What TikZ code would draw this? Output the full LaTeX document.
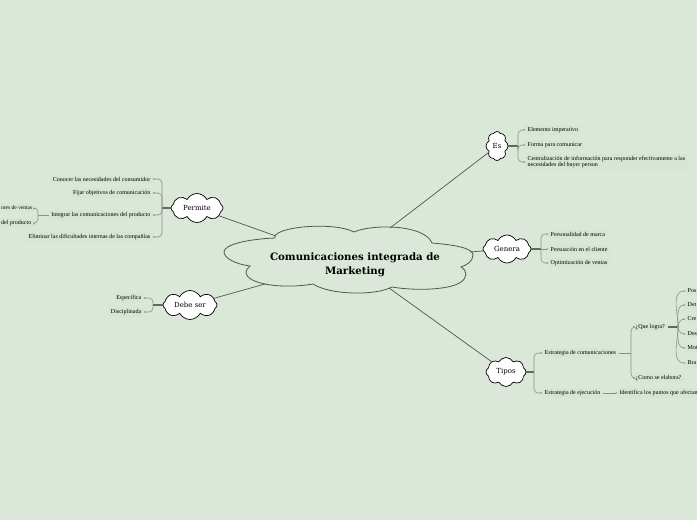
\documentclass[tikz,border=0pt]{standalone}
\usepackage{fontspec}
\setmainfont{Liberation Serif}
\newfontfamily\slabfont{DejaVu Serif}
\usetikzlibrary{shapes.symbols,arrows.meta}
\definecolor{mapback}{HTML}{DBE8D9}
\definecolor{leafback}{HTML}{D5E6D3}
\definecolor{branchline}{HTML}{84937F}
\definecolor{thickline}{HTML}{5C6B5A}
\definecolor{edgeline}{HTML}{4A5A4A}
\tikzset{
  bubble/.style={shape=cloud,cloud puffs=#1,cloud puff arc=125,cloud ignores aspect,draw=black,line width=0.7pt,fill=white,inner sep=0pt,font=\slabfont\fontsize{7}{8}\selectfont},
  leaf/.style={fill=leafback,rounded corners=1.5pt,inner xsep=2.5pt,inner ysep=2.2pt,text=black,font=\fontsize{6}{6.2}\selectfont},
  linkline/.style={draw=edgeline,line width=0.7pt},
  stem/.style={draw=thickline,line width=1.1pt},
  branch/.style={draw=branchline,line width=0.6pt,rounded corners=4pt,-{To[length=1.4pt,width=1.8pt]}},
  plainbranch/.style={draw=branchline,line width=0.6pt},
  fanup/.style={draw=branchline,line width=0.6pt,out=90,in=180,-{To[length=1.4pt,width=1.8pt]}},
  fandown/.style={draw=branchline,line width=0.6pt,out=-90,in=180,-{To[length=1.4pt,width=1.8pt]}}
}
\begin{document}
\begin{tikzpicture}[x=1pt,y=-1pt]
  \useasboundingbox[fill=mapback] (0,0) rectangle (697,520);
  % central cloud
  \draw[draw=edgeline,line width=0.8pt,fill=mapback]
    (275,236) .. controls (280,226) and (335,222) .. (354,232)
    .. controls (372,224) and (424,224) .. (432,243)
    .. controls (455,245) and (473,248) .. (473,255)
    .. controls (473,261) and (467,265) .. (461,267)
    .. controls (468,271) and (467,278) .. (461,282)
    .. controls (450,290) and (415,291) .. (392,287)
    .. controls (375,296) and (330,295) .. (313,284)
    .. controls (285,289) and (246,285) .. (246,272)
    .. controls (246,270) and (248,268) .. (250,266)
    .. controls (235,264) and (224,258) .. (224,252)
    .. controls (224,244) and (250,239) .. (275,238)
    -- cycle;
  \node[font=\slabfont\bfseries\fontsize{10.2}{14}\selectfont,align=center] (main) at (355,265) {Comunicaciones integrada de\\Marketing};
  \coordinate (mainEs) at (390,228);
  \coordinate (mainGenera) at (470,252);
  \coordinate (mainTipos) at (389,288);
  \coordinate (mainPermite) at (276,236);
  \coordinate (mainDebe) at (265,284);
  % clouds
  \node[bubble=8,minimum width=52pt,minimum height=29pt] (permite) at (197,208) {Permite};
  \node[bubble=8,minimum width=54pt,minimum height=29pt] (debe) at (190,305) {Debe ser};
  \node[bubble=8,minimum width=22pt,minimum height=29pt] (es) at (497,146) {Es};
  \node[bubble=8,minimum width=48pt,minimum height=28pt] (genera) at (507,249) {Genera};
  \node[bubble=8,minimum width=40pt,minimum height=29pt] (tipos) at (506,372) {Tipos};
  \draw[linkline] (mainEs) -- (es);
  \draw[linkline] (mainGenera) -- (genera);
  \draw[linkline] (mainTipos) -- (tipos);
  \draw[linkline] (mainPermite) -- (permite);
  \draw[linkline] (mainDebe) -- (debe);
  % Permite
  \coordinate (permiteJ) at (162,208);
  \node[leaf,anchor=east] (conocer) at (153,179) {Conocer las necesidades del consumidor};
  \node[leaf,anchor=east] (fijar) at (153,193) {Fijar objetivos de comunicación};
  \node[leaf,anchor=east] (integrar) at (153,215) {Integrar las comunicaciones del producto};
  \node[leaf,anchor=east] (eliminar) at (153,237) {Eliminar las dificultades internas de las compañías};
  \node[leaf,anchor=east,inner xsep=1.5pt,font=\fontsize{5.5}{6}\selectfont] (ventas) at (34,208) {ores de ventas};
  \node[leaf,anchor=east] (producto) at (34,223) {del producto};
  \coordinate (integrarJ) at (38,215);
  \draw[stem] (permite) -- (permiteJ);
  \draw[branch] (permiteJ) |- (conocer);
  \draw[branch] (permiteJ) |- (fijar);
  \draw[branch] (permiteJ) |- (integrar);
  \draw[branch] (permiteJ) |- (eliminar);
  \draw[plainbranch] (integrar) -- (integrarJ);
  \draw[branch] (integrarJ) |- (ventas);
  \draw[branch] (integrarJ) |- (producto);
  % Debe ser
  \coordinate (debeJ) at (153,305);
  \node[leaf,anchor=east] (especifica) at (144,298) {Específica};
  \node[leaf,anchor=east] (disciplinada) at (144,312) {Disciplinada};
  \draw[stem] (debe) -- (debeJ);
  \draw[branch] (debeJ) |- (especifica);
  \draw[branch] (debeJ) |- (disciplinada);
  % Es
  \coordinate (esJ) at (518,146);
  \node[leaf,anchor=west] (elemento) at (525,130) {Elemento imperativo};
  \node[leaf,anchor=west] (forma) at (525,145) {Forma para comunicar};
  \node[leaf,anchor=west,align=left] (central) at (525,162) {Centralización de información para responder efectivamente a las\\necesidades del buyer person};
  \draw[stem] (es) -- (esJ);
  \draw[branch] (esJ) |- (elemento);
  \draw[branch] (esJ) |- (forma);
  \draw[branch] (esJ) |- (central);
  % Genera
  \coordinate (generaJ) at (541,249);
  \node[leaf,anchor=west] (personalidad) at (548,234) {Personalidad de marca};
  \node[leaf,anchor=west] (persuasion) at (548,249) {Persuación en el cliente};
  \node[leaf,anchor=west] (optimizacion) at (548,263) {Optimización de ventas};
  \draw[stem] (genera) -- (generaJ);
  \draw[branch] (generaJ) |- (personalidad);
  \draw[branch] (generaJ) -- (persuasion);
  \draw[branch] (generaJ) |- (optimizacion);
  % Tipos
  \coordinate (tiposJ) at (534,372);
  \coordinate (comunJ) at (631,353);
  \coordinate (lograJ) at (678,327);
  \node[leaf,anchor=west] (comun) at (542,353) {Estrategia de comunicaciones};
  \node[leaf,anchor=west] (ejecucion) at (542,393) {Estrategia de ejecución};
  \node[leaf,anchor=west] (identifica) at (617,393) {Identifica los puntos que afectan};
  \node[leaf,anchor=west] (logra) at (633,327) {¿Que logra?};
  \node[leaf,anchor=west] (elabora) at (633,378) {¿Como se elabora?};
  \node[leaf,anchor=west] (pos) at (685,291) {Pos};
  \node[leaf,anchor=west] (det) at (685,305) {Det};
  \node[leaf,anchor=west] (cre) at (685,319) {Cre};
  \node[leaf,anchor=west] (des) at (685,334) {Des};
  \node[leaf,anchor=west] (mot) at (685,348) {Mot};
  \node[leaf,anchor=west] (bra) at (685,363) {Bra};
  \draw[stem] (tipos) -- (tiposJ);
  \draw[branch] (tiposJ) |- (comun);
  \draw[branch] (tiposJ) |- (ejecucion);
  \draw[plainbranch] (comun) -- (comunJ);
  \draw[branch] (comunJ) |- (logra);
  \draw[branch] (comunJ) |- (elabora);
  \draw[branch] (ejecucion) -- (identifica);
  \draw[stem] (logra) -- (lograJ);
  \draw[fanup] (lograJ) to (pos);
  \draw[fanup] (lograJ) to (det);
  \draw[fanup] (lograJ) to (cre);
  \draw[fandown] (lograJ) to (des);
  \draw[fandown] (lograJ) to (mot);
  \draw[fandown] (lograJ) to (bra);
\end{tikzpicture}
\end{document}
